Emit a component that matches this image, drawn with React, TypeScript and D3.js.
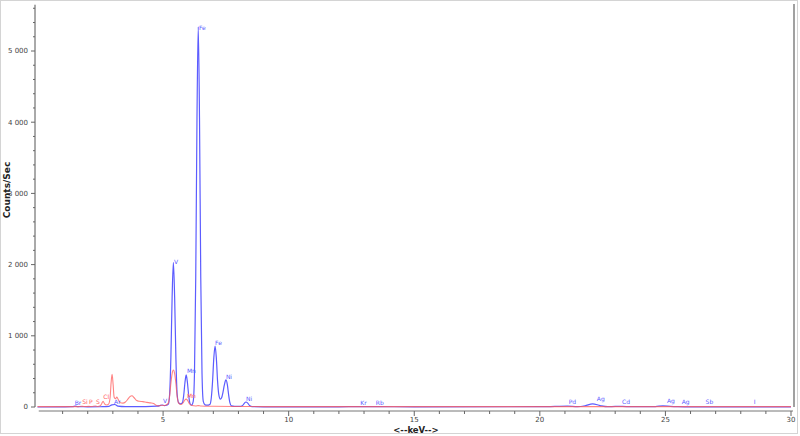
import React from 'react';
import * as d3 from 'd3';

// spectrum points: [keV, counts/sec]
const blueSpectrum: [number, number][] = [
  [0, 0], [1.0, 2], [1.4, 4], [1.5, 12], [1.6, 4], [2.0, 3], [2.6, 4], [2.85, 10], [2.96, 30],
  [3.08, 35], [3.2, 12], [3.5, 5], [4.3, 6], [4.75, 12], [4.9, 22], [4.97, 28], [5.05, 20],
  [5.13, 25], [5.21, 40], [5.26, 180], [5.31, 690], [5.36, 1540], [5.41, 2030], [5.46, 1540],
  [5.51, 690], [5.56, 180], [5.62, 60], [5.7, 45], [5.77, 60], [5.82, 160], [5.87, 340],
  [5.92, 450], [5.97, 340], [6.02, 160], [6.07, 50], [6.13, 25], [6.2, 80], [6.25, 470],
  [6.3, 1820], [6.35, 4060], [6.4, 5340], [6.45, 4060], [6.5, 1820], [6.55, 470], [6.6, 80],
  [6.67, 30], [6.75, 25], [6.87, 40], [6.92, 130], [6.97, 360], [7.02, 690], [7.07, 857],
  [7.12, 690], [7.17, 360], [7.22, 170], [7.28, 110], [7.33, 130], [7.38, 200], [7.44, 310],
  [7.5, 380], [7.56, 310], [7.61, 170], [7.66, 60], [7.72, 15], [7.85, 8], [8.1, 8], [8.17, 22],
  [8.24, 55], [8.3, 70], [8.37, 55], [8.44, 22], [8.55, 5], [9, 3], [12, 3], [12.8, 6], [13.5, 5],
  [15, 3], [20, 4], [20.6, 8], [21.1, 12], [21.5, 6], [21.8, 18], [22.1, 45], [22.4, 20],
  [22.7, 4], [23.0, 8], [23.3, 9], [23.6, 4], [24.6, 6], [24.9, 16], [25.2, 10], [25.5, 6],
  [26, 3], [30, 2]
];

const redSpectrum: [number, number][] = [
  [0, 5], [1.0, 5], [1.6, 5], [1.75, 11], [1.85, 6], [2.05, 9], [2.15, 6], [2.3, 13], [2.4, 8],
  [2.5, 16], [2.56, 50], [2.61, 80], [2.67, 45], [2.75, 28], [2.83, 40], [2.89, 130], [2.93, 340],
  [2.97, 460], [3.01, 320], [3.05, 140], [3.1, 115], [3.16, 140], [3.22, 100], [3.3, 60],
  [3.4, 55], [3.5, 70], [3.6, 110], [3.68, 145], [3.76, 158], [3.85, 130], [3.95, 90], [4.05, 80],
  [4.2, 75], [4.35, 65], [4.5, 58], [4.62, 50], [4.72, 25], [4.82, 15], [4.92, 25], [5.0, 22],
  [5.1, 25], [5.2, 50], [5.26, 150], [5.31, 330], [5.36, 470], [5.41, 520], [5.46, 470],
  [5.51, 330], [5.56, 150], [5.62, 55], [5.72, 35], [5.8, 60], [5.86, 95], [5.92, 110],
  [5.98, 90], [6.05, 45], [6.15, 20], [6.3, 14], [6.4, 20], [6.5, 14], [7.0, 10], [8, 7],
  [10, 5], [30, 5]
];

// element markers: [text, keV, label level (counts/sec), series]
const elementLabels: [string, number, number, 'blue' | 'red'][] = [
  ['Br', 1.48, 35, 'blue'], ['Ar', 3.05, 40, 'blue'], ['V', 5.0, 50, 'blue'],
  ['V', 5.43, 2010, 'blue'], ['Fe', 6.43, 5300, 'blue'], ['Mn', 5.95, 480, 'blue'],
  ['Fe', 7.07, 870, 'blue'], ['Ni', 7.5, 395, 'blue'], ['Ni', 8.3, 85, 'blue'],
  ['Kr', 12.85, 30, 'blue'], ['Rb', 13.47, 30, 'blue'], ['Pd', 21.15, 45, 'blue'],
  ['Ag', 22.27, 85, 'blue'], ['Cd', 23.27, 40, 'blue'], ['Ag', 25.06, 50, 'blue'],
  ['Ag', 25.65, 40, 'blue'], ['Sb', 26.6, 40, 'blue'], ['I', 28.52, 40, 'blue'],
  ['Si', 1.78, 45, 'red'], ['P', 2.05, 45, 'red'], ['S', 2.33, 45, 'red'],
  ['Cl', 2.62, 115, 'red'], ['Mn', 5.95, 125, 'red']
];

const xMajorTicks = [5, 10, 15, 20, 25, 30];
const yMajorTicks = [0, 1000, 2000, 3000, 4000, 5000];

const colors = { blue: '#5c5cff', red: '#ff5a5a' };
const font = '"DejaVu Sans", Verdana, sans-serif';

const locale = d3.formatLocale({ decimal: '.', thousands: ' ', grouping: [3], currency: ['', ''] });
const fmt = locale.format(',');

export default function App() {
  const width = 800;
  const height = 436;

  const x = d3.scaleLinear().domain([0, 30]).range([37.5, 791]);
  const y = d3.scaleLinear().domain([0, 5000]).range([407, 51]);

  const line = d3.line<[number, number]>()
    .x(d => x(d[0]))
    .y(d => y(d[1]))
    .curve(d3.curveMonotoneX);

  const xAxisY = 411;
  const yAxisX = 35;
  const yTop = y(5650);

  const xMinor = d3.range(1, 31);
  const yMinor = d3.range(0, 5601, 200);

  return (
    <div style={{ position: 'absolute', left: 0, top: 0 }}>
      <svg width={width} height={height} style={{ display: 'block', background: '#fff' }}>
        <rect x={0.5} y={0.5} width={797} height={433} fill="#fff" stroke="#d4d4d4" />
        <line x1={794} x2={794} y1={4} y2={407} stroke="#8a8a8a" strokeWidth={1.6} />

        {/* y axis */}
        <line x1={yAxisX} x2={yAxisX} y1={yTop} y2={y(0)} stroke="#555" />
        {yMinor.map(v => (
          <line key={'ym' + v} x1={yAxisX - (v % 1000 === 0 ? 4 : 2)} x2={yAxisX}
            y1={y(v)} y2={y(v)} stroke="#666" />
        ))}
        {yMajorTicks.map(v => (
          <text key={'yl' + v} x={yAxisX - 7} y={y(v)} dy="0.35em" textAnchor="end"
            fontFamily={font} fontSize={7} fill="#444">{fmt(v)}</text>
        ))}
        <text transform={`translate(10,190) rotate(-90)`} textAnchor="middle"
          fontFamily={font} fontSize={9} fontWeight="bold" fill="#222">Counts/Sec</text>

        {/* x axis */}
        <line x1={x(0.05)} x2={793} y1={xAxisY} y2={xAxisY} stroke="#777" />
        {xMinor.map(v => (
          <line key={'xm' + v} x1={x(v)} x2={x(v)} y1={xAxisY}
            y2={xAxisY + (v % 5 === 0 ? 5 : 3)} stroke="#666" />
        ))}
        {xMajorTicks.map(v => (
          <text key={'xl' + v} x={x(v)} y={xAxisY + 11} textAnchor="middle"
            fontFamily={font} fontSize={7} fill="#444">{v}</text>
        ))}
        <text x={416} y={433} textAnchor="middle" fontFamily={font} fontSize={8.5}
          fontWeight="bold" fill="#222">{'<--keV-->'}</text>

        {/* spectra */}
        <path d={line(blueSpectrum) || ''} fill="none" stroke={colors.blue} strokeWidth={1.2} />
        <path d={line(redSpectrum) || ''} fill="none" stroke={colors.red} strokeWidth={1.1} strokeOpacity={0.75} />

        {elementLabels.map(([t, k, lv, s], i) => (
          <text key={'el' + i} x={x(k)} y={y(lv)} fontFamily={font} fontSize={6}
            fill={colors[s]}>{t}</text>
        ))}
      </svg>
    </div>
  );
}
